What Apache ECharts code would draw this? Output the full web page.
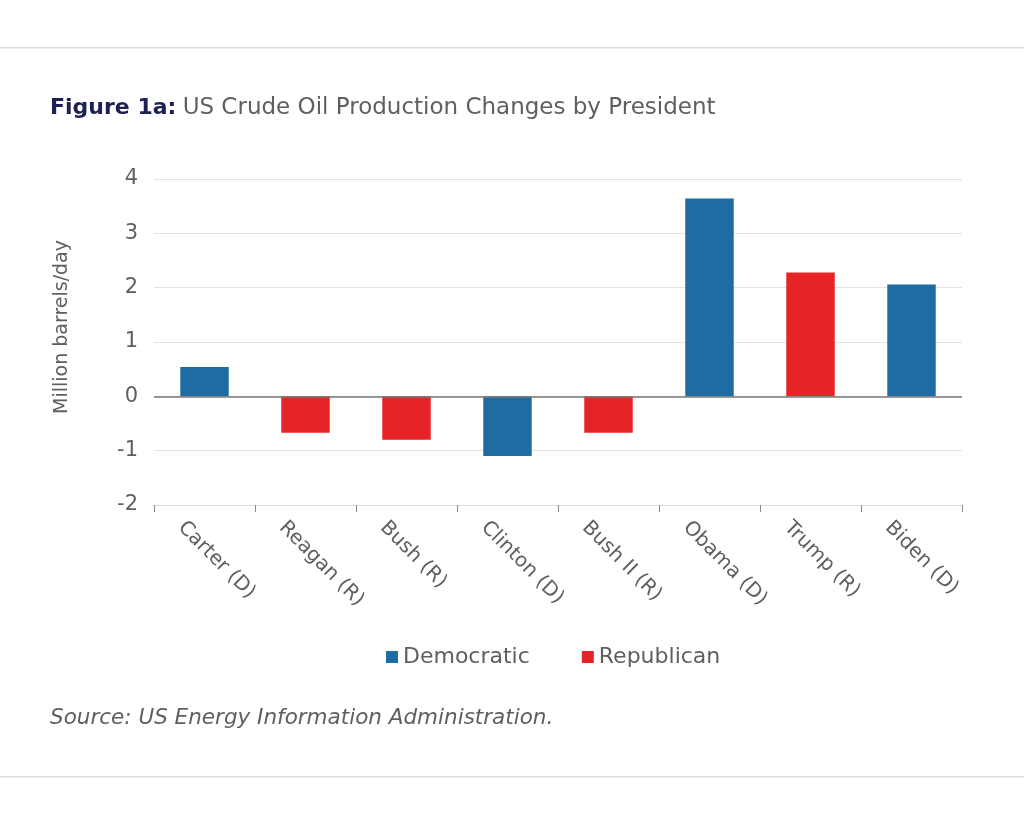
<!DOCTYPE html>
<html>
<head>
<meta charset="utf-8">
<script src="https://cdn.jsdelivr.net/npm/echarts@6/dist/echarts.min.js"></script>
<style>
  html, body { margin: 0; padding: 0; background: #fff; }
  #chart { width: 1024px; height: 826px; }
</style>
</head>
<body>
<div id="chart"></div>
<script>
// data
var presidents = ['Carter (D)', 'Reagan (R)', 'Bush (R)', 'Clinton (D)', 'Bush II (R)', 'Obama (D)', 'Trump (R)', 'Biden (D)'];
var parties = ['D', 'R', 'R', 'D', 'R', 'D', 'R', 'D'];
var changes = [0.54, -0.67, -0.80, -1.10, -0.67, 3.64, 2.28, 2.06];
var yTicks = [-2, -1, 0, 1, 2, 3, 4];

var demData = changes.map(function (v, i) { return parties[i] === 'D' ? v : '-'; });
var repData = changes.map(function (v, i) { return parties[i] === 'R' ? v : '-'; });

var grey = '#5f5f5f';
var font = 'DejaVu Sans';

var myChart = echarts.init(document.getElementById('chart'));
myChart.setOption({
    textStyle: { fontFamily: font },
    title: {
        left: 45,
        top: 92,
        text: '{a|Figure 1a:} {b|US Crude Oil Production Changes by President}',
        textStyle: {
            rich: {
                a: { fontSize: 22, fontWeight: 'bold', color: '#1c2151', fontFamily: font },
                b: { fontSize: 23, fontWeight: 'normal', color: grey, fontFamily: font }
            }
        }
    },
    legend: {
        top: 641,
        left: 381,
        icon: 'rect',
        itemWidth: 12,
        itemHeight: 12,
        itemGap: 52,
        textStyle: { fontSize: 22, color: grey, fontFamily: font },
        data: ['Democratic', 'Republican']
    },
    grid: { left: 154, right: 62, top: 179, bottom: 321 },
    xAxis: {
        type: 'category',
        data: presidents,
        axisLine: { onZero: false, lineStyle: { color: '#dcdcdc', width: 1 } },
        axisTick: { show: true, length: 7, lineStyle: { color: '#8a8a8a' } },
        axisLabel: { rotate: -45, fontSize: 20, color: grey, margin: 43, padding: [0, 0, 0, -33] }
    },
    yAxis: {
        type: 'value',
        min: yTicks[0],
        max: yTicks[yTicks.length - 1],
        interval: 1,
        name: 'Million barrels/day',
        nameLocation: 'middle',
        nameGap: 82,
        nameTextStyle: { fontSize: 19, color: grey, padding: [0, 0, 0, 30] },
        axisLine: { show: false },
        axisTick: { show: false },
        axisLabel: { fontSize: 21, color: grey, margin: 16 },
        splitLine: { lineStyle: { color: '#e3e3e3', width: 1 } }
    },
    series: [
        {
            name: 'Democratic',
            type: 'bar',
            data: demData,
            barWidth: '48%',
            barGap: '-100%',
            itemStyle: { color: '#1f6ca3' },
            markLine: {
                silent: true,
                symbol: 'none',
                label: { show: false },
                lineStyle: { color: '#777777', width: 1.5, type: 'solid' },
                data: [{ yAxis: 0 }]
            }
        },
        {
            name: 'Republican',
            type: 'bar',
            data: repData,
            barWidth: '48%',
            barGap: '-100%',
            itemStyle: { color: '#e62326' }
        }
    ],
    graphic: [
        { type: 'rect', shape: { x: 0, y: 47, width: 1024, height: 1.5 }, style: { fill: '#dddddd' } },
        { type: 'rect', shape: { x: 0, y: 776, width: 1024, height: 1.5 }, style: { fill: '#dddddd' } },
        {
            type: 'text', left: 50, top: 707,
            style: {
                text: 'Source: US Energy Information Administration.',
                font: 'oblique 21.5px "DejaVu Sans"',
                fill: grey
            }
        }
    ]
});
</script>
</body>
</html>
